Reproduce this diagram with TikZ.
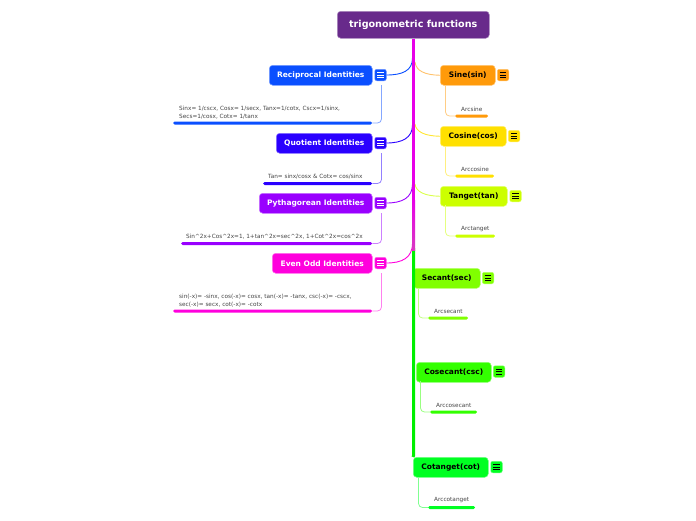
\documentclass[tikz,border=0pt]{standalone}
\usepackage{fontspec}
\setmainfont{DejaVu Sans}
\usetikzlibrary{calc}
\definecolor{cRoot}{HTML}{682A8B}
\definecolor{cRec}{HTML}{0A4FFF}
\definecolor{cQuo}{HTML}{2A00FF}
\definecolor{cPyt}{HTML}{9900FF}
\definecolor{cEve}{HTML}{FF00DD}
\definecolor{cSin}{HTML}{FF9A0A}
\definecolor{cCos}{HTML}{FFE000}
\definecolor{cTan}{HTML}{CCFF00}
\definecolor{cSec}{HTML}{80FF00}
\definecolor{cCsc}{HTML}{33FF00}
\definecolor{cCot}{HTML}{00FF22}
\definecolor{cTrunk}{HTML}{E800E8}
\definecolor{cTrunkB}{HTML}{D838C0}
\definecolor{cGreen}{HTML}{00F000}
\definecolor{cText}{HTML}{444444}
\tikzset{
  topic/.style 2 args={draw=#1!55!white, line width=0.5pt, fill=#1, rounded corners=3.5pt, inner sep=0pt,
    minimum height=20pt, text=#2, font=\bfseries\fontsize{7.5}{9}\selectfont, anchor=north west},
  menu/.style 2 args={draw=#1!60!white, line width=0.5pt, fill=#1, rounded corners=2pt, inner sep=0pt,
    minimum width=11.5pt, minimum height=11.5pt, anchor=west,
    path picture={
      \foreach \dy in {-2.6,0,2.6}
        \draw[#2, line width=0.55pt] ($(path picture bounding box.center)+(-3.2pt,\dy pt)$) -- ++(6.4pt,0);
    }},
  rule/.style={fill=#1, draw=none, rounded corners=1.5pt, inner sep=0pt, minimum height=3pt, anchor=west},
  note/.style={text=cText, inner sep=0pt, align=left, font=\fontsize{5.75}{8}\selectfont},
  link/.style={#1, line width=0.9pt},
  sublink/.style={#1!50!white, line width=0.8pt, rounded corners=4pt}
}
\begin{document}
\begin{tikzpicture}[x=1pt,y=-1pt]
\useasboundingbox (0,0) rectangle (696,520);
% trunk coordinates
\coordinate (tA) at (413.5,248);
\coordinate (tB) at (413.5,248);
\coordinate (j1) at (412.5,58);
\coordinate (j2) at (412.5,125);
\coordinate (j3) at (412.5,184);
\coordinate (j4) at (412.5,243);
\coordinate (k1) at (415,62);
\coordinate (k2) at (415,124);
\coordinate (k3) at (415,184);
% root
\node[topic={cRoot}{white}, minimum width=152pt, minimum height=27pt, font=\bfseries\fontsize{9.6}{11}\selectfont] (root) at (337,11) {trigonometric functions};
% left topics
\node[topic={cRec}{white}, minimum width=103pt] (rec) at (269,65) {Reciprocal Identities};
\node[topic={cQuo}{white}, minimum width=96pt] (quo) at (276,133) {Quotient Identities};
\node[topic={cPyt}{white}, minimum width=113pt] (pyt) at (259,193) {Pythagorean Identities};
\node[topic={cEve}{white}, minimum width=100pt] (eve) at (272,253) {Even Odd Identities};
\node[menu={cRec}{white}] (mrec) at (374.5,75) {};
\node[menu={cQuo}{white}] (mquo) at (374.5,143) {};
\node[menu={cPyt}{white}] (mpyt) at (374.5,203) {};
\node[menu={cEve}{white}] (meve) at (374.5,263) {};
% right topics
\node[topic={cSin}{black}, minimum width=55pt] (sin) at (440,65) {Sine(sin)};
\node[topic={cCos}{black}, minimum width=66pt] (cos) at (440,126) {Cosine(cos)};
\node[topic={cTan}{black}, minimum width=67pt] (tan) at (440,186) {Tanget(tan)};
\node[topic={cSec}{black}, minimum width=67pt] (sec) at (413,268) {Secant(sec)};
\node[topic={cCsc}{black}, minimum width=75pt] (csc) at (416,362) {Cosecant(csc)};
\node[topic={cCot}{black}, minimum width=75pt] (cot) at (413,457) {Cotanget(cot)};
\node[menu={cSin}{black}] (msin) at (497,75) {};
\node[menu={cCos}{black}] (mcos) at (508,136) {};
\node[menu={cTan}{black}] (mtan) at (509.5,196) {};
\node[menu={cSec}{black}] (msec) at (482,278) {};
\node[menu={cCsc}{black}] (mcsc) at (493,371.5) {};
\node[menu={cCot}{black}] (mcot) at (490.5,467) {};
% rules
\node[rule=cRec, minimum width=199pt] (urec) at (173,123) {};
\node[rule=cQuo, minimum width=109pt] (uquo) at (263,183.5) {};
\node[rule=cPyt, minimum width=191pt] (upyt) at (181,243.5) {};
\node[rule=cEve, minimum width=199pt] (ueve) at (173,311) {};
\node[rule=cSin, minimum width=33pt] (usin) at (455,116) {};
\node[rule=cCos, minimum width=39pt] (ucos) at (455,176) {};
\node[rule=cTan, minimum width=40pt] (utan) at (455,236) {};
\node[rule=cSec, minimum width=40pt] (usec) at (428,318) {};
\node[rule=cCsc, minimum width=47pt] (ucsc) at (430,412) {};
\node[rule=cCot, minimum width=47pt] (ucot) at (428,507.5) {};
% notes
\node[note, anchor=west] (nrec) at (179,112.7) {Sinx= 1/cscx, Cosx= 1/secx, Tanx=1/cotx, Cscx=1/sinx,\\Secs=1/cosx, Cotx= 1/tanx};
\node[note, anchor=west] (nquo) at (268,176.5) {Tan= sinx/cosx \& Cotx= cos/sinx};
\node[note, anchor=west] (npyt) at (186,236.5) {Sin\string^2x+Cos\string^2x=1, 1+tan\string^2x=sec\string^2x, 1+Cot\string^2x=cos\string^2x};
\node[note, anchor=west] (neve) at (179,300.3) {sin(-x)= -sinx, cos(-x)= cosx, tan(-x)= -tanx, csc(-x)= -cscx,\\sec(-x)= secx, cot(-x)= -cotx};
\node[note, anchor=west] (nsin) at (461,109) {Arcsine};
\node[note, anchor=west] (ncos) at (461,169) {Arccosine};
\node[note, anchor=west] (ntan) at (461,229) {Arctanget};
\node[note, anchor=west] (nsec) at (434,311) {Arcsecant};
\node[note, anchor=west] (ncsc) at (436,405) {Arccosecant};
\node[note, anchor=west] (ncot) at (434,500) {Arccotanget};
% sub connectors
\coordinate (srec) at (381.5,85);
\coordinate (squo) at (381.5,153);
\coordinate (spyt) at (381.5,213);
\coordinate (seve) at (381.5,273);
\coordinate (ssin) at (445.5,85);
\coordinate (scos) at (445.5,146);
\coordinate (stan) at (445.5,205);
\coordinate (ssec) at (418.5,288);
\coordinate (scsc) at (420.5,381);
\coordinate (scot) at (418.5,477);
\foreach \a/\b/\c in {srec/urec.east/cRec,squo/uquo.east/cQuo,spyt/upyt.east/cPyt,seve/ueve.east/cEve,
  ssin/usin.west/cSin,scos/ucos.west/cCos,stan/utan.west/cTan,ssec/usec.west/cSec,scsc/ucsc.west/cCsc,scot/ucot.west/cCot}
  \draw[sublink=\c] (\a) |- (\b);
% branch connectors
\draw[link=cRec] (j1) .. controls (412.5,71) and (402,75) .. (mrec.east);
\draw[link=cQuo] (j2) .. controls (412.5,138) and (402,143) .. (mquo.east);
\draw[link=cPyt] (j3) .. controls (412.5,198) and (402,203) .. (mpyt.east);
\draw[link=cEve] (j4) .. controls (412.5,258) and (402,263) .. (meve.east);
\draw[link=cSin!60!white] (k1) .. controls (416,71) and (425,75) .. (sin.west);
\draw[link=cCos!80!white] (k2) .. controls (416,132) and (425,136) .. (cos.west);
\draw[link=cTan!70!white] (k3) .. controls (416,192) and (425,196) .. (tan.west);
% trunk
\draw[cGreen, line width=3pt] (tB) -- (413.5,450) .. controls (413.5,455) and (414,457) .. (cot.north west);
\draw[cTrunk, line width=3pt] (root.south -| tA) -- (413.5,200);
\fill[top color=cTrunk, bottom color=cTrunkB] (412,200) rectangle (415,250);
\end{tikzpicture}
\end{document}
